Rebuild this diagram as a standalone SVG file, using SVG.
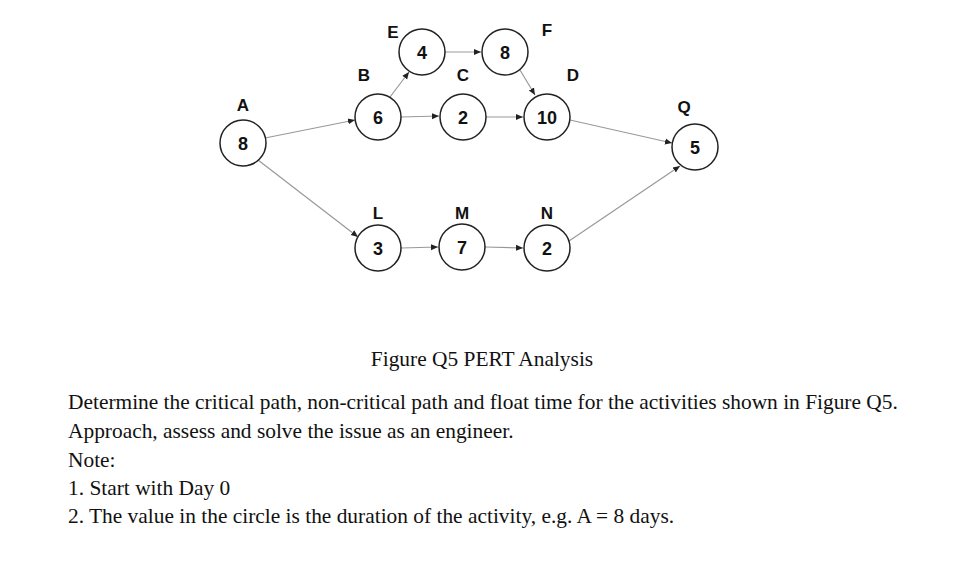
<svg xmlns="http://www.w3.org/2000/svg" width="959" height="565" viewBox="0 0 959 565">
<style>
.n circle{fill:#fff;stroke:#222;stroke-width:1.5}
.v{font:bold 18px "Liberation Sans",Arial,sans-serif;text-anchor:middle;fill:#111}
.l{font:bold 17px "Liberation Sans",Arial,sans-serif;text-anchor:middle;fill:#111}
.c line{stroke:#999;stroke-width:1.2;marker-end:url(#a)}
.t{font:21.4px "Liberation Serif","Times New Roman",serif;fill:#111}
</style>
<defs><marker id="a" markerWidth="8" markerHeight="8" refX="7" refY="4" orient="auto" markerUnits="userSpaceOnUse"><path d="M0,1 L7,4 L0,7Z" fill="#222"/></marker></defs>
<rect width="959" height="565" fill="#fff"/>
<g class="c">
<line x1="265" y1="138" x2="355" y2="120"/>
<line x1="258" y1="160" x2="358" y2="237"/>
<line x1="390" y1="97" x2="409" y2="72"/>
<line x1="445" y1="52" x2="481" y2="52"/>
<line x1="520" y1="70" x2="535" y2="95"/>
<line x1="401" y1="117" x2="439" y2="116"/>
<line x1="486" y1="117" x2="523" y2="117"/>
<line x1="570" y1="120" x2="672" y2="143"/>
<line x1="401" y1="248" x2="438" y2="247"/>
<line x1="485" y1="247" x2="523" y2="248"/>
<line x1="569" y1="241" x2="680" y2="166"/>
</g>
<g id="A" class="n"><circle cx="243" cy="143" r="23"/><text class="v" x="243" y="150">8</text><text class="l" x="243" y="111">A</text></g>
<g id="B" class="n"><circle cx="378" cy="117" r="23"/><text class="v" x="378" y="124">6</text><text class="l" x="364" y="81">B</text></g>
<g id="E" class="n"><circle cx="422" cy="52" r="23"/><text class="v" x="422" y="59">4</text><text class="l" x="393" y="38">E</text></g>
<g id="F" class="n"><circle cx="505" cy="52" r="23"/><text class="v" x="505" y="59">8</text><text class="l" x="547" y="36">F</text></g>
<g id="C" class="n"><circle cx="463" cy="117" r="23"/><text class="v" x="463" y="124">2</text><text class="l" x="463" y="81">C</text></g>
<g id="D" class="n"><circle cx="547" cy="117" r="23"/><text class="v" x="547" y="124">10</text><text class="l" x="573" y="81">D</text></g>
<g id="Q" class="n"><circle cx="695" cy="147" r="23"/><text class="v" x="695" y="154">5</text><text class="l" x="684" y="113">Q</text></g>
<g id="L" class="n"><circle cx="378" cy="248" r="23"/><text class="v" x="378" y="255">3</text><text class="l" x="378" y="219">L</text></g>
<g id="M" class="n"><circle cx="462" cy="247" r="23"/><text class="v" x="462" y="254">7</text><text class="l" x="462" y="219">M</text></g>
<g id="N" class="n"><circle cx="547" cy="248" r="23"/><text class="v" x="547" y="255">2</text><text class="l" x="547" y="219">N</text></g>
<text class="t" x="482" y="366" text-anchor="middle">Figure Q5 PERT Analysis</text>
<text class="t" x="68" y="409">Determine the critical path, non-critical path and float time for the activities shown in Figure Q5.</text>
<text class="t" x="68" y="438">Approach, assess and solve the issue as an engineer.</text>
<text class="t" x="68" y="467">Note:</text>
<text class="t" x="68" y="495">1. Start with Day 0</text>
<text class="t" x="68" y="523">2. The value in the circle is the duration of the activity, e.g. A = 8 days.</text>
</svg>
